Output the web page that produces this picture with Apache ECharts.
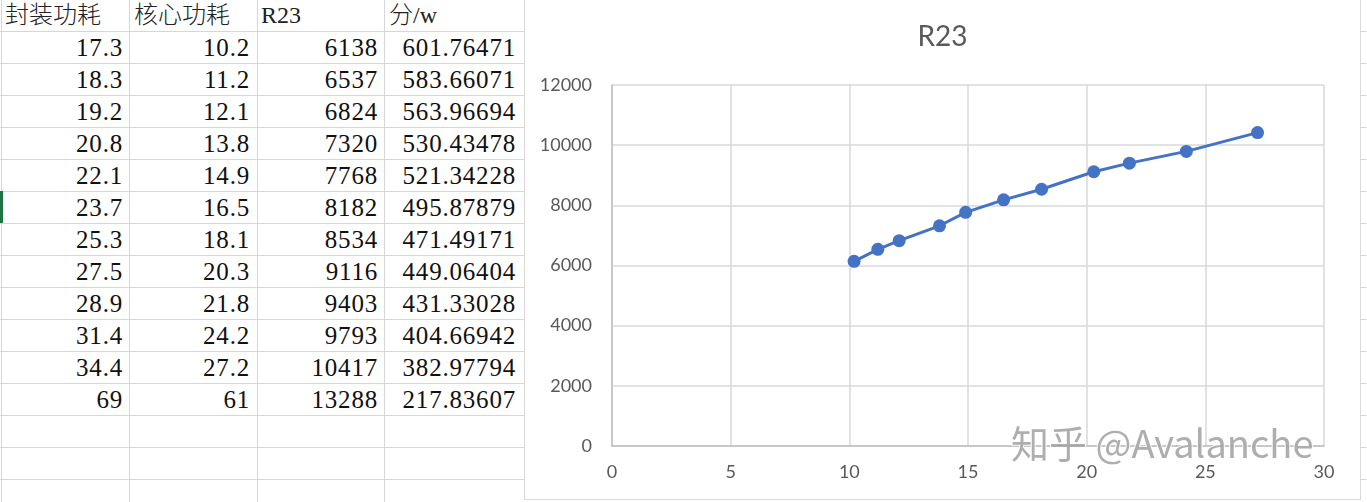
<!DOCTYPE html>
<html><head><meta charset="utf-8">
<script src="https://cdn.jsdelivr.net/npm/echarts@6/dist/echarts.min.js"></script>
<style>
html,body{margin:0;padding:0;width:1367px;height:502px;overflow:hidden;background:#fff;}
#sheet{position:absolute;left:0;top:0;width:1367px;height:502px;}
.hl{position:absolute;left:0;width:1367px;height:1px;background:#d6d6d6;}
.vl{position:absolute;top:0;width:1px;height:502px;background:#d6d6d6;}
.cell{position:absolute;height:32px;line-height:31px;font-family:"Liberation Serif","Noto Sans CJK SC",serif;font-size:25px;color:#111;white-space:nowrap;}
.hdr{font-family:"Liberation Serif","Noto Sans CJK SC",serif;font-size:24px;font-weight:300;color:#222;}
#chartBox{position:absolute;left:524px;top:-1px;width:837px;height:501px;border:1px solid #d9d9d9;box-sizing:border-box;background:#fff;}
#chart{width:835px;height:499px;}
</style></head>
<body>
<div id="sheet"></div>
<div id="chartBox"><div id="chart"></div></div>
<script>
// ---- data ----
const headers = ['封装功耗', '核心功耗', 'R23', '分/w'];
const packagePower = [17.3, 18.3, 19.2, 20.8, 22.1, 23.7, 25.3, 27.5, 28.9, 31.4, 34.4, 69];
const corePower = [10.2, 11.2, 12.1, 13.8, 14.9, 16.5, 18.1, 20.3, 21.8, 24.2, 27.2, 61];
const r23Score = [6138, 6537, 6824, 7320, 7768, 8182, 8534, 9116, 9403, 9793, 10417, 13288];
const scorePerWatt = ['601.76471', '583.66071', '563.96694', '530.43478', '521.34228', '495.87879',
  '471.49171', '449.06404', '431.33028', '404.66942', '382.97794', '217.83607'];
const chartRowCount = 11; // the chart plots the first 11 rows
const chartTitle = 'R23';
const xTicks = {min: 0, max: 30, interval: 5};
const yTicks = {min: 0, max: 12000, interval: 2000};
const watermark = '知乎 @Avalanche';

// ---- spreadsheet grid ----
const sheet = document.getElementById('sheet');
const rowH = 32;
for (let r = 1; r * rowH < 502; r++) {
  const d = document.createElement('div'); d.className = 'hl'; d.style.top = (r * rowH - 1) + 'px'; sheet.appendChild(d);
}
const colLines = [1, 129, 257, 384];
colLines.forEach(x => { const d = document.createElement('div'); d.className = 'vl'; d.style.left = x + 'px'; sheet.appendChild(d); });
const colRight = [123, 250, 378, 516];
const colLeft = [5, 134, 261, 389];
// green row marker
const g = document.createElement('div');
g.style.cssText = 'position:absolute;left:0;top:191px;width:3px;height:32px;background:#217346;';
sheet.appendChild(g);

function addCell(text, col, row, right, cls) {
  const d = document.createElement('div');
  d.className = 'cell' + (cls ? ' ' + cls : '');
  d.textContent = text;
  d.style.top = (row * rowH) + 'px';
  if (right) { d.style.right = (1367 - colRight[col]) + 'px'; d.style.letterSpacing = '0.8px'; }
  else d.style.left = colLeft[col] + 'px';
  sheet.appendChild(d);
}
headers.forEach((h, i) => addCell(h, i, 0, false, 'hdr'));
for (let i = 0; i < r23Score.length; i++) {
  addCell(String(packagePower[i]), 0, i + 1, true);
  addCell(String(corePower[i]), 1, i + 1, true);
  addCell(String(r23Score[i]), 2, i + 1, true);
  addCell(scorePerWatt[i], 3, i + 1, true);
}

// ---- chart ----
const points = corePower.slice(0, chartRowCount).map((x, i) => [x, r23Score[i]]);
const chart = echarts.init(document.getElementById('chart'));
const labelStyle = {color: '#595959', fontSize: 18, fontFamily: 'Lato, "Open Sans", sans-serif'};
chart.setOption({
  animation: false,
  backgroundColor: '#fff',
  title: {text: chartTitle, left: 'center', top: 18,
    textStyle: {color: '#595959', fontSize: 28, fontWeight: 'normal', fontFamily: 'Lato, "Open Sans", sans-serif'}},
  grid: {left: 87, top: 85, width: 712, height: 361, containLabel: false},
  xAxis: {type: 'value', min: xTicks.min, max: xTicks.max, interval: xTicks.interval,
    axisLine: {show: true, lineStyle: {color: '#bfbfbf', width: 1.5}},
    axisTick: {show: false},
    axisLabel: Object.assign({margin: 17, formatter: v => String(v)}, labelStyle),
    splitLine: {show: true, lineStyle: {color: '#d9d9d9', width: 1.5}}},
  yAxis: {type: 'value', min: yTicks.min, max: yTicks.max, interval: yTicks.interval,
    axisLine: {show: true, lineStyle: {color: '#bfbfbf', width: 1.5}},
    axisTick: {show: false},
    axisLabel: Object.assign({margin: 20, formatter: v => String(v)}, labelStyle),
    splitLine: {show: true, lineStyle: {color: '#d9d9d9', width: 1.5}}},
  series: [{type: 'line', data: points, color: '#4472C4',
    lineStyle: {color: '#4472C4', width: 3},
    itemStyle: {color: '#4472C4'},
    symbol: 'circle', symbolSize: 13, showSymbol: true}],
  graphic: [{type: 'text', left: 485, top: 424, z: 100,
    style: {text: watermark, fontSize: 38, fontFamily: '"Noto Sans CJK SC", sans-serif',
      fill: 'rgba(160,160,160,0.85)', stroke: 'rgba(255,255,255,0.9)', lineWidth: 2}}]
});
</script>
</body></html>
